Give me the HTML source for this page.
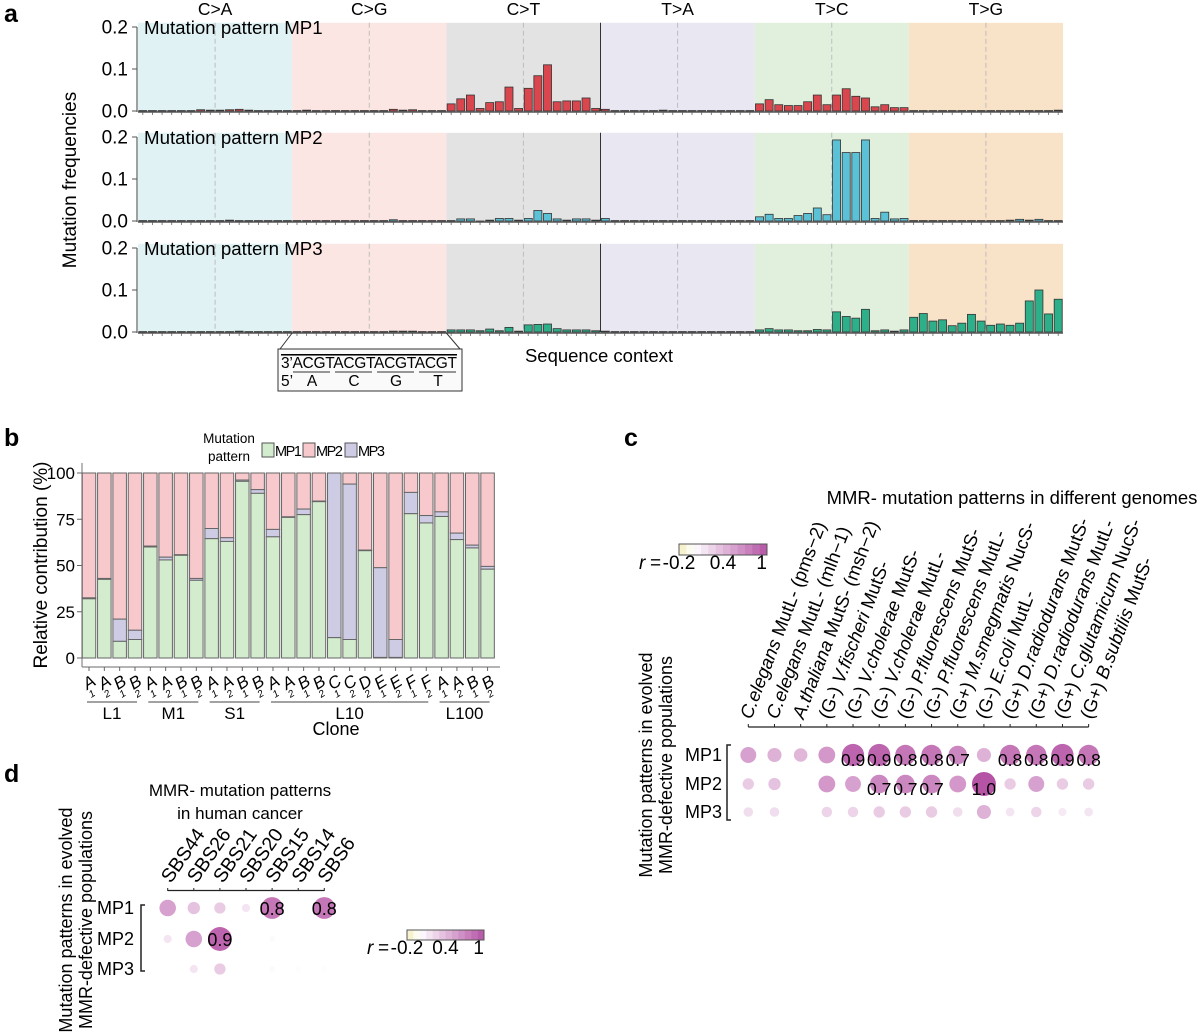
<!DOCTYPE html>
<html><head><meta charset="utf-8">
<style>
html,body{margin:0;padding:0;background:#fff;}
svg{display:block;font-family:"Liberation Sans",Arial,sans-serif;}
</style></head>
<body>
<svg id="fig" width="1200" height="1036" viewBox="0 0 1200 1036" xmlns="http://www.w3.org/2000/svg">
<g id="pa"></g>
<g id="pb"></g>
<g id="pc"></g>
<g id="pd"></g>
</svg>
<script>
// ---------- Panel a data ----------
const mutTypes = ["C>A","C>G","C>T","T>A","T>C","T>G"];
const tickLabelsA = ["0.0","0.1","0.2"];
const tickValsA = [0,0.1,0.2];
const mp1Vals = [
.001,.001,.001,.001,.001,.001,.003,.002,.002,.003,.004,.002,.001,.001,.001,.001,
.001,.002,.001,.001,.001,.001,.001,.001,.001,.001,.004,.002,.003,.001,.001,.001,
.017,.029,.038,.006,.020,.022,.057,.006,.054,.084,.110,.022,.024,.024,.031,.006,
.004,.001,.001,.001,.001,.001,.002,.001,.001,.001,.001,.001,.001,.001,.001,.001,
.017,.027,.015,.013,.013,.022,.038,.015,.038,.053,.035,.031,.010,.015,.008,.008,
.001,.001,.001,.001,.001,.001,.001,.001,.001,.001,.001,.001,.001,.001,.001,.002];
const mp2Vals = [
.001,.001,.001,.001,.001,.001,.001,.001,.001,.002,.001,.001,.001,.001,.001,.001,
.001,.001,.001,.001,.001,.001,.001,.001,.001,.001,.003,.001,.001,.001,.001,.001,
.001,.005,.005,.000,.002,.006,.006,.002,.006,.025,.018,.005,.002,.005,.005,.002,
.006,.001,.001,.001,.001,.001,.001,.001,.001,.001,.001,.001,.001,.001,.001,.001,
.010,.016,.006,.006,.013,.018,.031,.015,.193,.163,.163,.193,.006,.021,.005,.006,
.001,.001,.001,.001,.001,.001,.001,.001,.001,.001,.002,.004,.002,.004,.001,.001];
const mp3Vals = [
.001,.001,.001,.001,.001,.001,.001,.001,.001,.001,.002,.001,.001,.001,.001,.001,
.001,.001,.001,.001,.001,.001,.001,.001,.001,.001,.002,.002,.002,.001,.001,.001,
.005,.005,.005,.003,.007,.003,.011,.002,.017,.018,.019,.008,.005,.005,.005,.003,
.002,.001,.001,.001,.001,.001,.001,.001,.001,.001,.001,.001,.001,.001,.001,.001,
.005,.008,.005,.005,.003,.003,.006,.005,.048,.037,.033,.054,.003,.005,.002,.005,
.035,.044,.026,.029,.015,.021,.042,.026,.016,.019,.016,.021,.074,.100,.043,.078];
const panelNamesA = ["Mutation pattern MP1","Mutation pattern MP2","Mutation pattern MP3"];

// ---------- Panel b data ----------
const clones = ["A1","A2","B1","B2","A1","A2","B1","B2","A1","A2","B1","B2","A1","A2","B1","B2","C1","C2","D2","E1","E2","F1","F2","A1","A2","B1","B2"];
const bMP1 = [32,42.5,9,10,60,53,55.5,42,64.5,63,95.5,89,65.5,76,77.5,84.5,11,10,58,0.3,0.3,78,73,76.5,64,59.5,48];
const bMP3 = [0.5,0.5,12,5,0.5,1.5,0.3,1,5.5,2,0.7,2,4,0.3,3,0.3,89,84,0.3,48.5,9.7,11.5,4,2.5,3.5,1.5,1.5];
const lines = ["L1","M1","S1","L10","L100"];
const lineCounts = [4,4,4,11,4];
const tickLabelsB = ["0","25","50","75","100"];

// ---------- Panel c data ----------
const genomeLabels = [
 ["","C.elegans"," MutL- (pms−2)"],["","C.elegans"," MutL- (mlh−1)"],["","A.thaliana"," MutS- (msh−2)"],
 ["(G-) ","V.fischeri"," MutS-"],["(G-) ","V.cholerae"," MutS-"],["(G-) ","V.cholerae"," MutL-"],
 ["(G-) ","P.fluorescens"," MutS-"],["(G-) ","P.fluorescens"," MutL-"],["(G+) ","M.smegmatis"," NucS-"],
 ["(G-) ","E.coli"," MutL-"],["(G+) ","D.radiodurans"," MutS-"],["(G+) ","D.radiodurans"," MutL-"],
 ["(G+) ","C.glutamicum"," NucS-"],["(G+) ","B.subtilis"," MutS-"]];
const rowsMP = ["MP1","MP2","MP3"];
const cMP1 = [.55,.45,.42,.6,.9,.9,.8,.8,.7,.45,.8,.8,.9,.8];
const cMP2 = [.3,.35,0,.6,.55,.7,.7,.7,.6,1.0,.3,.55,.3,.3];
const cMP3 = [.2,.2,0,.25,.25,.3,.3,.3,.2,.45,.15,.25,.12,.15];
const cShown = [[0,0,0,0,1,1,1,1,1,0,1,1,1,1],[0,0,0,0,0,1,1,1,0,1,0,0,0,0],[0,0,0,0,0,0,0,0,0,0,0,0,0,0]];

// ---------- Panel d data ----------
const sbsLabels = ["SBS44","SBS26","SBS21","SBS20","SBS15","SBS14","SBS6"];
const dMP1 = [.55,.35,.3,.15,.8,0,.8];
const dMP2 = [.15,.55,.9,0,.03,0,0];
const dMP3 = [0,.15,.3,0,.03,.02,.02];
const dShown = [[0,0,0,0,1,0,1],[0,0,1,0,0,0,0],[0,0,0,0,0,0,0]];
const cbarLabels = ["-0.2","0.4","1"];

const NS="http://www.w3.org/2000/svg";
function mk(tag,attrs,parent,txt){const e=document.createElementNS(NS,tag);for(const k in attrs)e.setAttribute(k,attrs[k]);if(txt!==undefined)e.textContent=txt;parent.appendChild(e);return e;}

// ================= PANEL A =================
const pa=document.getElementById('pa');
const ax0=138, ax1=1063, nB=96, bw=(ax1-ax0)/nB;
const bases=[111,221,332], unit=420;
const bgCols=["#e1f2f5","#fbe6e3","#e3e3e3","#e8e7f2","#e1f0dd","#f9e3c8"];
const barCols=["#d9464e","#5bc1d7","#2daf8a"];
const seriesA=[mp1Vals,mp2Vals,mp3Vals];
function yA(p,v){return bases[p]-v*unit;}
let t=mk('text',{x:4,y:22,'font-size':25,'font-weight':'bold'},pa,'a');

mutTypes.forEach((m,i)=>{const tt=mk('text',{x:ax0+(i+0.5)*16*bw,y:15,'font-size':17.5,'text-anchor':'middle'},pa,m);
 });
t=mk('text',{x:0,y:0,'font-size':19,'text-anchor':'middle',transform:'translate(76,180) rotate(-90)'},pa,'Mutation frequencies');

for(let p=0;p<3;p++){
 const g=mk('g',{},pa);
 const top=yA(p,0.21);
 for(let k=0;k<6;k++){
  const r=mk('rect',{x:ax0+k*16*bw,y:top,width:16*bw,height:bases[p]-top,fill:bgCols[k]},g);
  
  mk('line',{x1:ax0+(k+0.5)*16*bw,x2:ax0+(k+0.5)*16*bw,y1:top,y2:bases[p],stroke:'#bdbdbd','stroke-dasharray':'5,3','stroke-width':1},g);
 }
 mk('line',{x1:ax0+48*bw,x2:ax0+48*bw,y1:top,y2:bases[p],stroke:'#333','stroke-width':1},g);
 const vals=seriesA[p];
 for(let i=0;i<nB;i++){
  const y=yA(p,vals[i]);
  const b=mk('rect',{x:ax0+i*bw+0.8,y:y,width:bw-1.6,height:Math.max(bases[p]-y,0.8),fill:barCols[p],stroke:'#333','stroke-width':0.8},g);
  
  mk('line',{x1:ax0+(i+0.5)*bw,x2:ax0+(i+0.5)*bw,y1:bases[p]+1,y2:bases[p]+4,stroke:'#666','stroke-width':0.8},g);
 }
 mk('line',{x1:ax0,x2:ax1,y1:bases[p]+1,y2:bases[p]+1,stroke:'#555','stroke-width':1.4},g);
 mk('line',{x1:ax0-1,x2:ax0-1,y1:yA(p,0.2),y2:bases[p]+1,stroke:'#777','stroke-width':1.4},g);
 tickValsA.forEach((v,j)=>{mk('line',{x1:ax0-6,x2:ax0-1,y1:yA(p,v),y2:yA(p,v),stroke:'#555'},g);
  const tl=mk('text',{x:ax0-10,y:yA(p,v)+6.5,'font-size':19,'text-anchor':'end'},g,tickLabelsA[j]);
  });
 const pt=mk('text',{x:ax0+6,y:yA(p,0.2)+7,'font-size':18.7},g,panelNamesA[p]);
 
}
{const g=mk('g',{},pa);
 mk('line',{x1:ax0+16*bw,y1:333,x2:280,y2:349,stroke:'#333'},g);
 mk('line',{x1:ax0+32*bw,y1:333,x2:460,y2:349,stroke:'#333'},g);
 mk('rect',{x:278,y:349,width:184,height:42,fill:'#fafafa',stroke:'#333'},g);
 mk('text',{x:281,y:368,'font-size':15.5,'text-decoration':'overline',textLength:176},g,"3’ACGTACGTACGTACGT");
 [["A",0],["C",1],["G",2],["T",3]].forEach(([c,k])=>{mk('line',{x1:293+k*42,x2:330+k*42,y1:372,y2:372,stroke:'#333'},g);
  mk('text',{x:312+k*42,y:386,'font-size':15.5,'text-anchor':'middle'},g,c);});
 mk('text',{x:281,y:386,'font-size':15.5},g,"5’");
 const sc=mk('text',{x:599,y:362,'font-size':18.5,'text-anchor':'middle'},pa,'Sequence context');
 }

// ================= PANEL B =================
const pb=document.getElementById('pb');
const bx0=89, bstep=15.33, bbw=13.5, by0=658, by100=473;
function yB(v){return by0-(by0-by100)*v/100;}
t=mk('text',{x:4,y:446,'font-size':25,'font-weight':'bold'},pb,'b');
mk('text',{x:229,y:443,'font-size':13.5,'text-anchor':'middle'},pb,'Mutation');
mk('text',{x:229,y:461,'font-size':13.5,'text-anchor':'middle'},pb,'pattern');
const bCols=["#d3ecce","#f8c9cc","#cecbe5"];
[["MP1",262,275],["MP2",303,316],["MP3",345,358]].forEach(([n,x,tx],i)=>{const lg=mk('g',{},pb);
 
 mk('rect',{x:x,y:443,width:12,height:14,fill:bCols[i],stroke:'#555'},lg);mk('text',{x:tx,y:456,'font-size':14.5,textLength:27},lg,n);});
t=mk('text',{x:0,y:0,'font-size':19,'text-anchor':'middle',transform:'translate(47,565) rotate(-90)'},pb,'Relative contribution (%)');

mk('line',{x1:82,x2:82,y1:463,y2:667,stroke:'#888','stroke-width':1.2},pb);
mk('line',{x1:82,x2:500,y1:667,y2:667,stroke:'#888','stroke-width':1.2},pb);
tickLabelsB.forEach((l,j)=>{const v=j*25;mk('line',{x1:77,x2:82,y1:yB(v),y2:yB(v),stroke:'#666'},pb);
 const tl=mk('text',{x:75,y:yB(v)+6,'font-size':17,'text-anchor':'end'},pb,l);});
clones.forEach((c,i)=>{
 const x=bx0+i*bstep, m1=bMP1[i], m3=bMP3[i];
 const g=mk('g',{},pb);
 const r2=mk('rect',{x:x-bbw/2,y:yB(100),width:bbw,height:yB(m1+m3)-yB(100),fill:bCols[1],stroke:'#666','stroke-width':1},g);
 
 const r3=mk('rect',{x:x-bbw/2,y:yB(m1+m3),width:bbw,height:yB(m1)-yB(m1+m3),fill:bCols[2],stroke:'#666','stroke-width':1},g);
 
 const r1=mk('rect',{x:x-bbw/2,y:yB(m1),width:bbw,height:yB(0)-yB(m1),fill:bCols[0],stroke:'#666','stroke-width':1},g);
 
 mk('line',{x1:x,x2:x,y1:667,y2:671,stroke:'#666'},pb);
 const lt=mk('text',{x:x,y:688,'font-size':17,'font-style':'italic','text-anchor':'middle',transform:`rotate(-32 ${x} 682)`},pb,c[0]);
 
 mk('text',{x:x+3,y:697,'font-size':10,'font-style':'italic','text-anchor':'middle',transform:`rotate(-32 ${x+3} 694)`},pb,c[1]);
});
{let start=0;lines.forEach((l,k)=>{const n=lineCounts[k];const xa=bx0+start*bstep-2,xb=bx0+(start+n-1)*bstep+2;
 mk('line',{x1:xa,x2:xb,y1:702,y2:702,stroke:'#444'},pb);
 const lt=mk('text',{x:(xa+xb)/2,y:719,'font-size':17,'text-anchor':'middle'},pb,l);
 start+=n;});}
t=mk('text',{x:336,y:735,'font-size':18,'text-anchor':'middle'},pb,'Clone');

// ================= COLOR SCALE =================
function rcol(r){
 if(r<0){const f=Math.min(-r/0.2,1);return mix([255,255,255],[244,238,190],f);}
 return mix([255,255,255],[181,84,165],Math.min(r,1));}
function mix(a,b,f){return 'rgb('+a.map((v,i)=>Math.round(v+(b[i]-v)*f)).join(',')+')';}
function colorbar(g,x,y,w,h){
 for(let k=0;k<12;k++){const r=-0.2+1.2*(k+0.5)/12;mk('rect',{x:x+k*w/12,y:y,width:w/12+0.3,height:h,fill:rcol(r)},g);}
 mk('rect',{x:x,y:y,width:w,height:h,fill:'none',stroke:'#555'},g);
 const pos=[0,0.5,1];
 mk('text',{x:x-40,y:y+h+14,'font-size':19,'font-style':'italic'},g,'r');
 mk('text',{x:x-29,y:y+h+14,'font-size':19},g,'=');
 cbarLabels.forEach((l,j)=>{mk('text',{x:x+pos[j]*w,y:y+h+14,'font-size':19,'text-anchor':j==2?'end':'middle'},g,l);});
}

// ================= PANEL C =================
const pc=document.getElementById('pc');
t=mk('text',{x:1012,y:504,'font-size':18.5,'text-anchor':'middle'},pc,'MMR- mutation patterns in different genomes');

t=mk('text',{x:624,y:446,'font-size':25,'font-weight':'bold'},pc,'c');
{const g=mk('g',{},pc);colorbar(g,679,544,88,11);}
const cx0=748.3, cstep=26.18, cRows=[755,784,812];
const cData=[cMP1,cMP2,cMP3];
function xC(i){return cx0+i*cstep;}
mk('line',{x1:xC(0),x2:xC(13),y1:727,y2:727,stroke:'#222','stroke-width':1.2},pc);
genomeLabels.forEach((l,i)=>{mk('line',{x1:xC(i),x2:xC(i),y1:724,y2:727,stroke:'#222'},pc);
 const tt=mk('text',{x:0,y:0,'font-size':18.5,transform:`translate(${xC(i)+3},720) rotate(-69)`},pc);
 
 mk('tspan',{},tt,l[0]);mk('tspan',{'font-style':'italic'},tt,l[1]);mk('tspan',{},tt,l[2]);});
rowsMP.forEach((r,j)=>{const rt=mk('text',{x:722,y:cRows[j]+6,'font-size':18,'text-anchor':'end'},pc,r);
 cData[j].forEach((v,i)=>{const c=mk('circle',{cx:xC(i),cy:cRows[j],r:v<=0.01?1:3+9*Math.abs(v),fill:rcol(v)},pc);
  
  if(cShown[j][i]){mk('text',{x:xC(i),y:cRows[j]+11,'font-size':17.5,'text-anchor':'middle'},pc,v.toFixed(1));}});});
mk('path',{d:'M731,745 H727 V820 H731',fill:'none',stroke:'#222','stroke-width':1.5},pc);
t=mk('text',{x:0,y:0,'font-size':18,'text-anchor':'middle',transform:'translate(652,765) rotate(-90)'},pc,'Mutation patterns in evolved');

mk('text',{x:0,y:0,'font-size':18,'text-anchor':'middle',transform:'translate(672,765) rotate(-90)'},pc,'MMR-defective populations');

// ================= PANEL D =================
const pd=document.getElementById('pd');
t=mk('text',{x:4,y:782,'font-size':25,'font-weight':'bold'},pd,'d');
t=mk('text',{x:240,y:796,'font-size':17,'text-anchor':'middle'},pd,'MMR- mutation patterns');
mk('text',{x:240,y:819,'font-size':17,'text-anchor':'middle'},pd,'in human cancer');
const dx0=167.7, dstep=26.1, dRows=[908,939,969];
const dData=[dMP1,dMP2,dMP3];
function xD(i){return dx0+i*dstep;}
mk('line',{x1:xD(0),x2:xD(6),y1:890.5,y2:890.5,stroke:'#222','stroke-width':1.2},pd);
sbsLabels.forEach((l,i)=>{mk('line',{x1:xD(i),x2:xD(i),y1:888,y2:891,stroke:'#222'},pd);
 const tt=mk('text',{x:0,y:0,'font-size':19.5,transform:`translate(${xD(i)+3},884) rotate(-55)`},pd,l);
 });
rowsMP.forEach((r,j)=>{const rt=mk('text',{x:134,y:dRows[j]+6,'font-size':18,'text-anchor':'end'},pd,r);
 dData[j].forEach((v,i)=>{const c=mk('circle',{cx:xD(i),cy:dRows[j],r:v<=0.005?1.2:2.5+10.5*Math.abs(v),fill:rcol(v)},pd);
  
  if(dShown[j][i]){mk('text',{x:xD(i),y:dRows[j]+7,'font-size':18,'text-anchor':'middle'},pd,v.toFixed(1));}});});
mk('path',{d:'M145,905 H141 V971 H145',fill:'none',stroke:'#222','stroke-width':1.5},pd);
t=mk('text',{x:0,y:0,'font-size':18,'text-anchor':'middle',transform:'translate(72,920) rotate(-90)'},pd,'Mutation patterns in evolved');

mk('text',{x:0,y:0,'font-size':18,'text-anchor':'middle',transform:'translate(92,920) rotate(-90)'},pd,'MMR-defective populations');
{const g=mk('g',{},pd);colorbar(g,407,930,77,10);}
</script>
</body></html>
